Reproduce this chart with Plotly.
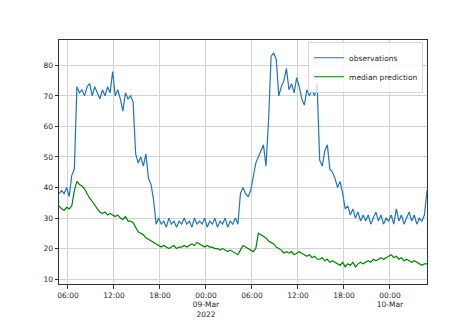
import pandas as pd
import plotly.graph_objects as go

# 20-minute samples starting 2022-03-08 04:50
start_time = "2022-03-08 04:50"
step = "20min"

observations = [
    38, 39, 38, 40, 37, 44, 46, 73, 71, 72, 70, 73,
    74, 70, 73, 71, 69, 72, 70, 73, 71, 78, 70, 72,
    69, 65, 71, 69, 70, 68, 51, 48, 50, 47, 51, 43,
    41, 36, 28, 30, 28, 29, 27, 30, 28, 29, 27, 29,
    28, 30, 28, 29, 27, 30, 28, 29, 28, 30, 27, 29,
    28, 30, 27, 29, 28, 30, 27, 29, 28, 30, 28, 38,
    40, 38, 37, 39, 44, 48, 50, 52, 54, 47, 62, 83,
    84, 82, 70, 73, 75, 79, 72, 74, 71, 76, 73, 69,
    67, 72, 70, 72, 70, 74, 49, 47, 52, 54, 46, 45,
    43, 40, 42, 38, 33, 34, 31, 33, 30, 32, 29, 31,
    29, 31, 28, 30, 32, 29, 31, 28, 30, 29, 31, 28,
    33, 29, 31, 28, 30, 32, 29, 31, 28, 30, 29, 31,
    39,
]

median_prediction = [
    34, 33, 32.5, 33.5, 33, 34, 39, 42, 41, 40.5, 39.5, 38,
    36.5, 35.5, 34, 33, 32, 31.5, 32, 31, 31.5, 31, 30.5, 31,
    30, 29.5, 30.5, 29, 29, 28.5, 27, 25.5, 25, 24.5, 23.5, 23,
    22.5, 22, 21.5, 21, 20.5, 21, 20.5, 20, 20.5, 21, 20, 20.5,
    20.5, 21, 20.5, 21, 21.5, 21, 22, 21.5, 21, 20.5, 21, 20.5,
    20.5, 20, 20, 19.5, 20, 19.5, 19, 19.5, 19, 18.5, 18, 19.5,
    21, 20.5, 20, 19.5, 19, 20, 25, 24.5, 24, 23.5, 22.5, 22,
    21.5, 20.5, 20, 19.5, 18.5, 19, 18.5, 19, 18, 18.5, 19, 18.5,
    18, 17.5, 18, 17, 17.5, 16.5, 16.5, 17, 16, 16.5, 15.5, 16,
    15.5, 15, 14.5, 15.5, 14, 15, 14.5, 15.5, 14, 15, 15.5, 15,
    15.5, 16, 15.5, 16.5, 16, 16.5, 17, 16.5, 17, 17.5, 18, 17,
    17.5, 16.5, 17, 16, 16.5, 16, 15.5, 16, 15.5, 15, 14.5, 15,
    15,
]

x_tick_values = [
    "2022-03-08 06:00", "2022-03-08 12:00", "2022-03-08 18:00",
    "2022-03-09 00:00", "2022-03-09 06:00", "2022-03-09 12:00",
    "2022-03-09 18:00", "2022-03-10 00:00",
]
x_tick_labels = [
    "06:00", "12:00", "18:00", "00:00<br>09-Mar<br>2022",
    "06:00", "12:00", "18:00", "00:00<br>10-Mar",
]
y_tick_values = [10, 20, 30, 40, 50, 60, 70, 80]

times = pd.date_range(start_time, periods=len(observations), freq=step)

fig = go.Figure()
fig.add_trace(go.Scatter(x=times, y=observations, mode="lines",
                         name="observations",
                         line=dict(color="#1f77b4", width=1.2)))
fig.add_trace(go.Scatter(x=times, y=median_prediction, mode="lines",
                         name="median prediction",
                         line=dict(color="#008000", width=1.2)))

axis_common = dict(showline=True, mirror=True, linecolor="#333333", linewidth=1,
                   ticks="outside", ticklen=3.5, tickcolor="#333333", tickwidth=0.8,
                   showgrid=True, gridcolor="#d3d3d3", gridwidth=0.8,
                   zeroline=False, tickfont=dict(size=7.5, color="#262626"))

fig.update_layout(
    width=474, height=331,
    margin=dict(l=59, r=47, t=40, b=41),
    paper_bgcolor="white", plot_bgcolor="white",
    font=dict(family="DejaVu Sans", size=7.5, color="#262626"),
    showlegend=True,
    legend=dict(x=0.99, y=0.99, xanchor="right", yanchor="top",
                bgcolor="rgba(255,255,255,0.8)", bordercolor="#cccccc",
                borderwidth=0.8, font=dict(size=7.5), tracegroupgap=0,
                itemwidth=30),
)
fig.update_xaxes(range=[times[0], times[-1]], tickvals=x_tick_values,
                 ticktext=x_tick_labels, **axis_common)
fig.update_yaxes(range=[8.4, 88.3], tickvals=y_tick_values, **axis_common)

fig.write_html("out.html")
